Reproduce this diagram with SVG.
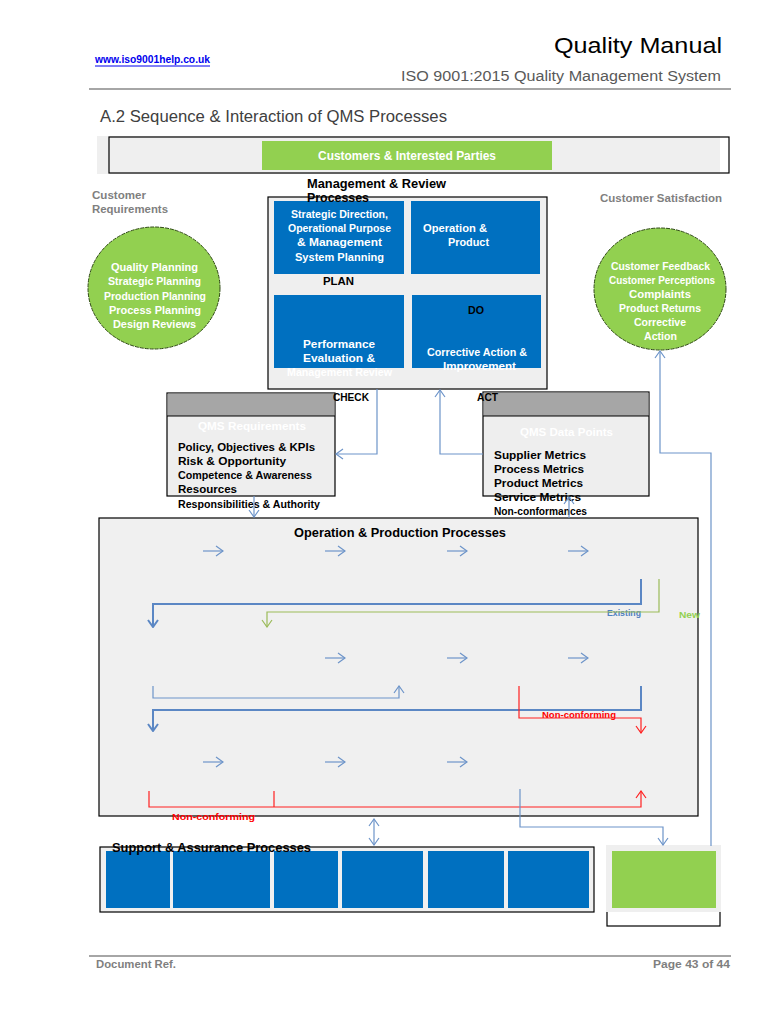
<svg xmlns="http://www.w3.org/2000/svg" width="768" height="1024" viewBox="0 0 768 1024">
<style>
text{font-family:"Liberation Sans",Arial,sans-serif}
.b{font-weight:bold}
.w{fill:#ffffff;font-weight:bold;font-size:11px}
.k{fill:#000000;font-weight:bold;font-size:11px}
.g{fill:#7f7f7f;font-weight:bold;font-size:11px}
.blue{fill:#0070c0}
.grn{fill:#92d050}
.lg{fill:#efefef}
.ln{fill:none;stroke:#6d94c9;stroke-width:1.2}
.lnb{fill:none;stroke:#5b87c4;stroke-width:2}
.lnr{fill:none;stroke:#ff2020;stroke-width:1.2}
.lng{fill:none;stroke:#9bbb59;stroke-width:1.2}
</style>
<defs>
<marker id="ab" viewBox="-9 -6 10 12" refX="0" refY="0" markerWidth="10" markerHeight="12" markerUnits="userSpaceOnUse" orient="auto"><path d="M-7,-5 L0,0 L-7,5" fill="none" stroke="#6d94c9" stroke-width="1.2"/></marker>
<marker id="abs" viewBox="-9 -6 10 12" refX="0" refY="0" markerWidth="10" markerHeight="12" markerUnits="userSpaceOnUse" orient="auto-start-reverse"><path d="M-7,-5 L0,0 L-7,5" fill="none" stroke="#6d94c9" stroke-width="1.2"/></marker>
<marker id="abb" viewBox="-9 -6 10 12" refX="0" refY="0" markerWidth="10" markerHeight="12" markerUnits="userSpaceOnUse" orient="auto"><path d="M-7,-5 L0,0 L-7,5" fill="none" stroke="#5b87c4" stroke-width="2"/></marker>
<marker id="ar" viewBox="-9 -6 10 12" refX="0" refY="0" markerWidth="10" markerHeight="12" markerUnits="userSpaceOnUse" orient="auto"><path d="M-7,-5 L0,0 L-7,5" fill="none" stroke="#ff2020" stroke-width="1.2"/></marker>
<marker id="ag" viewBox="-9 -6 10 12" refX="0" refY="0" markerWidth="10" markerHeight="12" markerUnits="userSpaceOnUse" orient="auto"><path d="M-7,-5 L0,0 L-7,5" fill="none" stroke="#9bbb59" stroke-width="1.2"/></marker>
</defs>
<rect x="0" y="0" width="768" height="1024" fill="#ffffff"/>

<g id="header">
<text x="95" y="63" font-size="10" class="b" fill="#0000ee" textLength="115" lengthAdjust="spacingAndGlyphs">www.iso9001help.co.uk</text>
<line x1="95" y1="66" x2="210" y2="66" stroke="#0000ee" stroke-width="1"/>
<text x="554" y="53" font-size="22" fill="#000000" textLength="168" lengthAdjust="spacingAndGlyphs">Quality Manual</text>
<text x="401" y="81" font-size="14" fill="#595959" textLength="320" lengthAdjust="spacingAndGlyphs">ISO 9001:2015 Quality Management System</text>
<line x1="89" y1="89" x2="731" y2="89" stroke="#a6a6a6" stroke-width="2"/>
<text x="100" y="122" font-size="16" fill="#404040" textLength="347" lengthAdjust="spacingAndGlyphs">A.2 Sequence &amp; Interaction of QMS Processes</text>
</g>

<g id="customers">
<rect x="97" y="136" width="623" height="38" class="lg"/>
<rect x="109" y="137" width="620" height="36" fill="none" stroke="#000" stroke-width="1.2"/>
<rect x="262" y="141" width="290" height="29" class="grn"/>
<text x="318" y="160" font-size="13" class="b" fill="#ffffff" textLength="178" lengthAdjust="spacingAndGlyphs">Customers &amp; Interested Parties</text>
</g>

<g id="labels">
<text x="92" y="199" class="g" textLength="54" lengthAdjust="spacingAndGlyphs">Customer</text>
<text x="92" y="213" class="g" textLength="76" lengthAdjust="spacingAndGlyphs">Requirements</text>
<text x="600" y="202" class="g" textLength="122" lengthAdjust="spacingAndGlyphs">Customer Satisfaction</text>
</g>

<g id="customer-requirements">
<ellipse cx="154" cy="288" rx="66" ry="61" class="grn" stroke="#2f4a14" stroke-width="1" stroke-dasharray="4,1"/>
<text x="111" y="271" class="w" textLength="87" lengthAdjust="spacingAndGlyphs">Quality Planning</text>
<text x="108" y="285" class="w" textLength="93" lengthAdjust="spacingAndGlyphs">Strategic Planning</text>
<text x="104" y="300" class="w" textLength="102" lengthAdjust="spacingAndGlyphs">Production Planning</text>
<text x="109" y="314" class="w" textLength="92" lengthAdjust="spacingAndGlyphs">Process Planning</text>
<text x="113" y="328" class="w" textLength="83" lengthAdjust="spacingAndGlyphs">Design Reviews</text>
</g>

<g id="customer-satisfaction">
<ellipse cx="660" cy="289" rx="66" ry="61" class="grn" stroke="#2f4a14" stroke-width="1" stroke-dasharray="4,1"/>
<text x="611" y="270" class="w" textLength="99" lengthAdjust="spacingAndGlyphs">Customer Feedback</text>
<text x="609" y="284" class="w" textLength="106" lengthAdjust="spacingAndGlyphs">Customer Perceptions</text>
<text x="629" y="298" class="w" textLength="62" lengthAdjust="spacingAndGlyphs">Complaints</text>
<text x="619" y="312" class="w" textLength="82" lengthAdjust="spacingAndGlyphs">Product Returns</text>
<text x="634" y="326" class="w" textLength="52" lengthAdjust="spacingAndGlyphs">Corrective</text>
<text x="644" y="340" class="w" textLength="33" lengthAdjust="spacingAndGlyphs">Action</text>
</g>

<g id="management">
<rect x="268" y="197" width="279" height="192" class="lg" stroke="#000" stroke-width="1.2"/>
<rect x="274" y="201" width="130" height="73" class="blue"/>
<rect x="411" y="201" width="129" height="73" class="blue"/>
<rect x="274" y="295" width="130" height="73" class="blue"/>
<rect x="412" y="295" width="129" height="73" class="blue"/>
<text x="307" y="188" font-size="12.5" class="b" fill="#000" textLength="139" lengthAdjust="spacingAndGlyphs">Management &amp; Review</text>
<text x="307" y="202" font-size="12.5" class="b" fill="#000" textLength="62" lengthAdjust="spacingAndGlyphs">Processes</text>
<text x="291" y="218" class="w" textLength="97" lengthAdjust="spacingAndGlyphs">Strategic Direction,</text>
<text x="288" y="232" class="w" textLength="103" lengthAdjust="spacingAndGlyphs">Operational Purpose</text>
<text x="297" y="246" class="w" textLength="85" lengthAdjust="spacingAndGlyphs">&amp; Management</text>
<text x="295" y="261" class="w" textLength="89" lengthAdjust="spacingAndGlyphs">System Planning</text>
<text x="423" y="232" class="w" textLength="64" lengthAdjust="spacingAndGlyphs">Operation &amp;</text>
<text x="448" y="246" class="w" textLength="41" lengthAdjust="spacingAndGlyphs">Product</text>
<text x="323" y="285" class="k" textLength="31" lengthAdjust="spacingAndGlyphs">PLAN</text>
<text x="468" y="314" class="k" textLength="16" lengthAdjust="spacingAndGlyphs">DO</text>
<text x="303" y="348" class="w" textLength="72" lengthAdjust="spacingAndGlyphs">Performance</text>
<text x="303" y="362" class="w" textLength="72" lengthAdjust="spacingAndGlyphs">Evaluation &amp;</text>
<text x="287" y="376" class="w" textLength="105" lengthAdjust="spacingAndGlyphs">Management Review</text>
<text x="427" y="356" class="w" textLength="100" lengthAdjust="spacingAndGlyphs">Corrective Action &amp;</text>
<text x="443" y="370" class="w" textLength="73" lengthAdjust="spacingAndGlyphs">Improvement</text>
</g>

<g id="qms-requirements">
<rect x="167" y="393" width="168" height="103" fill="#eeeeee" stroke="#000" stroke-width="1.2"/>
<rect x="167.6" y="393.6" width="166.8" height="22.4" fill="#a6a6a6"/>
<line x1="167" y1="416" x2="335" y2="416" stroke="#000" stroke-width="1"/>
<text x="198" y="430" class="w" textLength="108" lengthAdjust="spacingAndGlyphs">QMS Requirements</text>
<text x="178" y="451" class="k" textLength="137" lengthAdjust="spacingAndGlyphs">Policy, Objectives &amp; KPIs</text>
<text x="178" y="465" class="k" textLength="108" lengthAdjust="spacingAndGlyphs">Risk &amp; Opportunity</text>
<text x="178" y="479" class="k" textLength="134" lengthAdjust="spacingAndGlyphs">Competence &amp; Awareness</text>
<text x="178" y="493" class="k" textLength="59" lengthAdjust="spacingAndGlyphs">Resources</text>
<text x="178" y="508" class="k" font-size="10" textLength="142" lengthAdjust="spacingAndGlyphs">Responsibilities &amp; Authority</text>
</g>

<g id="qms-data-points">
<rect x="483" y="392" width="166" height="104" fill="#eeeeee" stroke="#000" stroke-width="1.2"/>
<rect x="483.6" y="392.6" width="164.8" height="23.4" fill="#a6a6a6"/>
<line x1="483" y1="416" x2="649" y2="416" stroke="#000" stroke-width="1"/>
<text x="520" y="436" class="w" textLength="93" lengthAdjust="spacingAndGlyphs">QMS Data Points</text>
<text x="494" y="459" class="k" textLength="92" lengthAdjust="spacingAndGlyphs">Supplier Metrics</text>
<text x="494" y="473" class="k" textLength="90" lengthAdjust="spacingAndGlyphs">Process Metrics</text>
<text x="494" y="487" class="k" textLength="89" lengthAdjust="spacingAndGlyphs">Product Metrics</text>
<text x="494" y="501" class="k" textLength="87" lengthAdjust="spacingAndGlyphs">Service Metrics</text>
<text x="494" y="515" class="k" font-size="10" textLength="93" lengthAdjust="spacingAndGlyphs">Non-conformances</text>
</g>

<g id="pdca-labels">
<text x="333" y="401" class="k" textLength="36" lengthAdjust="spacingAndGlyphs">CHECK</text>
<text x="477" y="401" class="k" textLength="21" lengthAdjust="spacingAndGlyphs">ACT</text>
</g>

<g id="operation">
<rect x="99" y="518" width="599" height="298" fill="#f0f0f0" stroke="#000" stroke-width="1.2"/>
<text x="294" y="537" font-size="12.5" class="b" fill="#000" textLength="212" lengthAdjust="spacingAndGlyphs">Operation &amp; Production Processes</text>
<text x="607" y="616" font-size="8.5" class="b" fill="#4f7fc0" textLength="34" lengthAdjust="spacingAndGlyphs">Existing</text>
<text x="679" y="618" font-size="9" class="b" fill="#92d050" textLength="21" lengthAdjust="spacingAndGlyphs">New</text>
<text x="542" y="718" font-size="9" class="b" fill="#ff0000" textLength="74" lengthAdjust="spacingAndGlyphs">Non-conforming</text>
<text x="172" y="820" font-size="9.5" class="b" fill="#ff0000" textLength="83" lengthAdjust="spacingAndGlyphs">Non-conforming</text>
</g>

<g id="support">
<rect x="100" y="847" width="494" height="65" fill="#f0f0f0" stroke="#000" stroke-width="1.2"/>
<rect x="106" y="851" width="64" height="57" class="blue"/>
<rect x="173" y="851" width="97" height="57" class="blue"/>
<rect x="274" y="851" width="64" height="57" class="blue"/>
<rect x="342" y="851" width="81" height="57" class="blue"/>
<rect x="428" y="851" width="76" height="57" class="blue"/>
<rect x="508" y="851" width="81" height="57" class="blue"/>
<text x="112" y="852" font-size="12.5" class="b" fill="#000" textLength="199" lengthAdjust="spacingAndGlyphs">Support &amp; Assurance Processes</text>
</g>

<g id="output">
<rect x="607" y="846" width="113" height="80" fill="#ffffff" stroke="#000" stroke-width="1.2"/>
<rect x="606" y="845" width="115" height="67" fill="#efefef"/>
<rect x="612" y="851" width="104" height="57" class="grn"/>
</g>

<g id="connectors">
<path class="ln" d="M377,389 L377,454 L336,454" marker-end="url(#ab)"/>
<path class="ln" d="M483,454 L440,454 L440,390" marker-end="url(#ab)"/>
<path class="ln" d="M254,496 L254,517" marker-end="url(#ab)"/>
<path class="ln" d="M569,518 L569,497" marker-end="url(#ab)"/>
<path class="ln" d="M711,846 L711,453 L660,453 L660,351" marker-end="url(#ab)"/>
<path class="ln" d="M203,551 L223,551" marker-end="url(#ab)"/>
<path class="ln" d="M325,551 L345,551" marker-end="url(#ab)"/>
<path class="ln" d="M447,551 L467,551" marker-end="url(#ab)"/>
<path class="ln" d="M568,551 L588,551" marker-end="url(#ab)"/>
<path class="ln" d="M325,658 L345,658" marker-end="url(#ab)"/>
<path class="ln" d="M447,658 L467,658" marker-end="url(#ab)"/>
<path class="ln" d="M568,658 L588,658" marker-end="url(#ab)"/>
<path class="ln" d="M203,762 L223,762" marker-end="url(#ab)"/>
<path class="ln" d="M325,762 L345,762" marker-end="url(#ab)"/>
<path class="ln" d="M447,762 L467,762" marker-end="url(#ab)"/>
<path class="lnb" d="M641,579 L641,604 L153,604 L153,627" marker-end="url(#abb)"/>
<path class="lng" d="M659,579 L659,612 L267,612 L267,627" marker-end="url(#ag)"/>
<path class="ln" d="M153,686 L153,698 L399,698 L399,686" marker-end="url(#ab)"/>
<path class="lnb" d="M641,686 L641,710 L153,710 L153,731" marker-end="url(#abb)"/>
<path class="lnr" d="M519,686 L519,718 L641,718 L641,733" marker-end="url(#ar)"/>
<path class="lnr" d="M149,791 L149,807 L641,807 L641,791" marker-end="url(#ar)"/>
<path class="lnr" d="M274,791 L274,807"/>
<path class="ln" d="M520,789 L520,827 L663,827 L663,845" marker-end="url(#ab)"/>
<path class="ln" d="M374,819 L374,845" marker-start="url(#abs)" marker-end="url(#ab)"/>
</g>

<g id="footer">
<line x1="89" y1="956" x2="731" y2="956" stroke="#a6a6a6" stroke-width="2"/>
<text x="96" y="968" font-size="10" class="b" fill="#7f7f7f" textLength="80" lengthAdjust="spacingAndGlyphs">Document Ref.</text>
<text x="653" y="968" font-size="10" class="b" fill="#7f7f7f" textLength="77" lengthAdjust="spacingAndGlyphs">Page 43 of 44</text>
</g>
</svg>
